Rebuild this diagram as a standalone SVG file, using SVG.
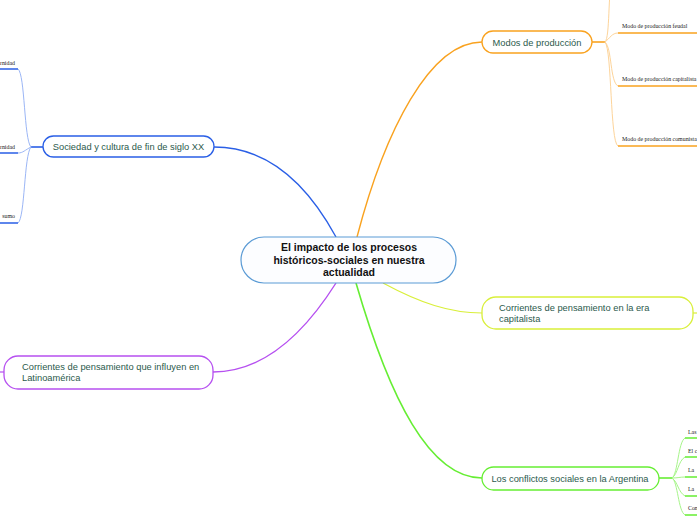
<svg xmlns="http://www.w3.org/2000/svg" width="697" height="520" viewBox="0 0 697 520">
<style>
.t{font-family:"Liberation Sans",Arial,sans-serif;font-size:9.3px;fill:#2b5a4c}
.c{font-family:"Liberation Sans",Arial,sans-serif;font-size:10.5px;font-weight:bold;fill:#111}
.s{font-family:"Liberation Serif","Times New Roman",serif;font-size:5.9px;fill:#222}
.n{fill:#fff;stroke-width:1.3}
path{fill:none}
</style>
<rect width="697" height="520" fill="#fff"/>
<g id="connectors">
<path d="M336 237 C305 180 265 147 214 147" stroke="#2a5fe6" stroke-width="1.4"/>
<path d="M357 237 C385 130 430 42 482 42" stroke="#f9a21f" stroke-width="1.4"/>
<path d="M383 283 C420 303 450 313 482 313" stroke="#d9ef3a" stroke-width="1.2"/>
<path d="M356 283 C390 400 430 478 482 478" stroke="#66ee33" stroke-width="1.6"/>
<path d="M336 283 C300 340 260 372 213 372" stroke="#b650f0" stroke-width="1.4"/>
<path d="M693 313 H697" stroke="#d9ef3a" stroke-width="1.2"/>
<path d="M0 372 H4" stroke="#b650f0" stroke-width="1.2"/>
<path d="M43 147 H31" stroke="#2a5fe6" stroke-width="1.6"/>
<path d="M31 147 C24 140 25 74 18 69" stroke="#9bb6f6" stroke-width="1"/>
<path d="M31 147 C25 150 23 153 18 153" stroke="#9bb6f6" stroke-width="1"/>
<path d="M31 147 C24 155 25 218 18 223" stroke="#9bb6f6" stroke-width="1"/>
<path d="M0 69 H18 M0 153 H18 M0 223 H18" stroke="#2a5fe6" stroke-width="1.6"/>
<path d="M592 42 H605" stroke="#f9a21f" stroke-width="1.6"/>
<path d="M605 42 C610 38 608 -10 612 -20" stroke="#fdd49a" stroke-width="1"/>
<path d="M605 42 C610 38 612 33 618 33" stroke="#fdd49a" stroke-width="1"/>
<path d="M605 42 C612 48 610 82 618 86" stroke="#fdd49a" stroke-width="1"/>
<path d="M605 42 C612 50 610 142 618 146" stroke="#fdd49a" stroke-width="1"/>
<path d="M618 33 H697 M618 86 H697 M618 146 H697" stroke="#f9a21f" stroke-width="1.6"/>
<path d="M659 478 H672" stroke="#66ee33" stroke-width="1.6"/>
<path d="M672 478 C678 474 678 442 685 438" stroke="#a6f589" stroke-width="1"/>
<path d="M672 478 C678 474 678 461 685 457" stroke="#a6f589" stroke-width="1"/>
<path d="M672 478 C678 478 680 477 685 477" stroke="#a6f589" stroke-width="1"/>
<path d="M672 478 C678 482 678 492 685 496" stroke="#a6f589" stroke-width="1"/>
<path d="M672 478 C678 482 678 511 685 515" stroke="#a6f589" stroke-width="1"/>
<path d="M685 438 H697 M685 457 H697 M685 477 H697 M685 496 H697 M685 515 H697" stroke="#66ee33" stroke-width="1.6"/>
</g>
<g id="center">
<rect x="241" y="237" width="215" height="46" rx="23" fill="#fcfdff" stroke="#5b9bd5" stroke-width="1.2"/>
<text class="c" x="349" y="251" text-anchor="middle">El impacto de los procesos</text>
<text class="c" x="349" y="263.5" text-anchor="middle">históricos-sociales en nuestra</text>
<text class="c" x="349" y="276" text-anchor="middle">actualidad</text>
</g>
<g id="modos">
<rect class="n" x="482" y="31" width="110" height="22" rx="11" stroke="#f9a21f"/>
<text class="t" x="537" y="45.5" text-anchor="middle">Modos de producción</text>
</g>
<g id="sociedad">
<rect class="n" x="43" y="136" width="171" height="21" rx="10.5" stroke="#2a5fe6"/>
<text class="t" x="128.5" y="150" text-anchor="middle">Sociedad y cultura de fin de siglo XX</text>
</g>
<g id="capitalista">
<rect class="n" x="482" y="297" width="211" height="32" rx="14" stroke="#d9ef3a"/>
<text class="t" x="499" y="311">Corrientes de pensamiento en la era</text>
<text class="t" x="499" y="322">capitalista</text>
</g>
<g id="latino">
<rect class="n" x="4" y="356" width="209" height="33" rx="14" stroke="#b650f0"/>
<text class="t" x="22" y="370">Corrientes de pensamiento que influyen en</text>
<text class="t" x="22" y="381">Latinoamérica</text>
</g>
<g id="conflictos">
<rect class="n" x="482" y="467" width="177" height="23" rx="11.5" stroke="#66ee33"/>
<text class="t" x="570" y="481.5" text-anchor="middle">Los conflictos sociales en la Argentina</text>
</g>
<g id="sub-sociedad">
<text class="s" x="15" y="65" text-anchor="end">rnidad</text>
<text class="s" x="15" y="149" text-anchor="end">rnidad</text>
<text class="s" x="15" y="218" text-anchor="end">sumo</text>
</g>
<g id="sub-modos">
<text class="s" x="622" y="28">Modo de producción feudal</text>
<text class="s" x="622" y="81">Modo de producción capitalista</text>
<text class="s" x="622" y="141">Modo de producción comunista</text>
</g>
<g id="sub-conflictos">
<text class="s" x="688" y="434">Las</text>
<text class="s" x="688" y="453">El c</text>
<text class="s" x="688" y="472">La</text>
<text class="s" x="688" y="491">La</text>
<text class="s" x="688" y="510">Con</text>
</g>
</svg>
